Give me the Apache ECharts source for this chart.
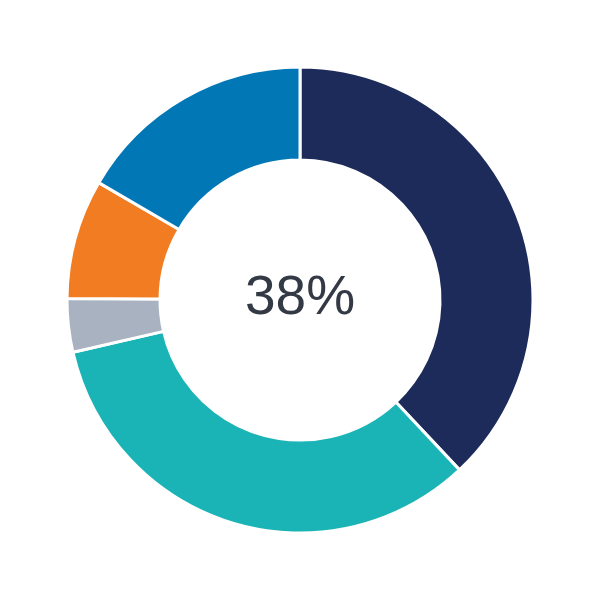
<!DOCTYPE html>
<html>
<head>
<meta charset="utf-8">
<script src="https://cdn.jsdelivr.net/npm/echarts@6/dist/echarts.min.js"></script>
<style>html,body{margin:0;padding:0;background:#fff}#c{width:600px;height:600px}</style>
</head>
<body>
<div id="c"></div>
<script>
var categories = ['A', 'B', 'C', 'D', 'E'];
var values = [38, 33.4, 3.7, 8.3, 16.6];
var colors = ['#1c2b5a', '#1bb4b6', '#a9b2c0', '#f27c21', '#0277b5'];
var centerLabel = '38%';

var chart = echarts.init(document.getElementById('c'));
chart.setOption({
  animation: false,
  series: [{
    type: 'pie',
    center: [300, 300],
    radius: [140, 233],
    startAngle: 90,
    clockwise: true,
    label: { show: false },
    labelLine: { show: false },
    itemStyle: { borderColor: '#fff', borderWidth: 3 },
    data: categories.map(function (c, i) {
      return { name: c, value: values[i], itemStyle: { color: colors[i] } };
    })
  }],
  graphic: [{
    type: 'text',
    left: 'center',
    top: 271,
    style: {
      text: centerLabel,
      font: '55px "Liberation Sans", Arial, sans-serif',
      fill: '#343a45'
    }
  }]
});
</script>
</body>
</html>
